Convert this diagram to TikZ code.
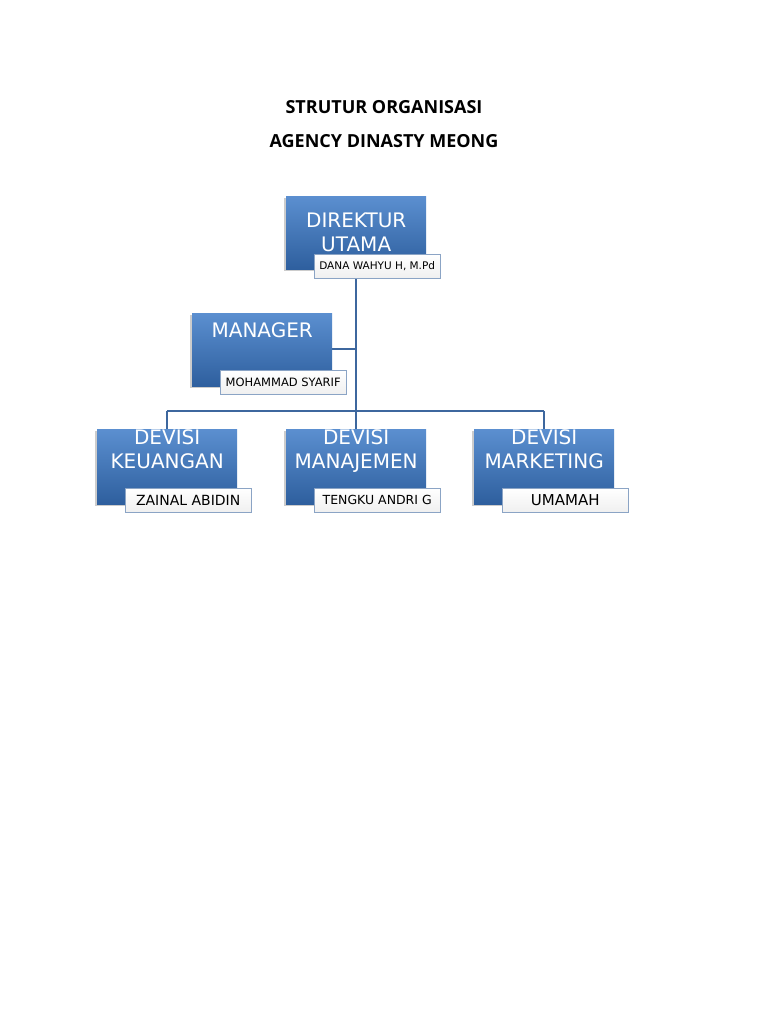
\documentclass[tikz,border=0pt]{standalone}
\usepackage{fontspec}
\setmainfont{DejaVu Sans}
\newfontfamily\titlefont{Open Sans}
\usetikzlibrary{shadows}
\definecolor{boxtop}{HTML}{5B8FD0}
\definecolor{boxbot}{HTML}{2E5F9E}
\definecolor{linecol}{HTML}{3D679E}
\begin{document}
\begin{tikzpicture}[x=1pt,y=-1pt,
    unit/.style={rectangle, top color=boxtop, bottom color=boxbot, draw=none,
      minimum width=140, minimum height=73, anchor=north west, text=white,
      font=\fontsize{20}{24}\selectfont, align=center, inner sep=0pt,
      drop shadow={shadow xshift=-2pt, shadow yshift=-2pt, opacity=.4}},
    tag/.style={rectangle, top color=white, bottom color=gray!12, draw=linecol!60,
      minimum width=126, minimum height=24, anchor=north west, inner sep=1pt,
      drop shadow={shadow xshift=1pt, shadow yshift=-1pt, opacity=.3}},
    link/.style={linecol, line width=2.2pt}
]
\useasboundingbox (0,0) rectangle (768,1024);
\fill[white] (0,0) rectangle (768,1024);

% Title
\node[font=\titlefont\bfseries\fontsize{18}{22}\selectfont] (title1) at (384,107) {STRUTUR ORGANISASI};
\node[font=\titlefont\bfseries\fontsize{18}{22}\selectfont] (title2) at (384,141) {AGENCY DINASTY MEONG};

% Connectors (behind boxes)
\coordinate (trunk) at (356,278);
\coordinate (junction) at (356,411);
\coordinate (left) at (167,411);
\coordinate (right) at (544,411);
\coordinate (mgr) at (356,349);
\draw[link] (trunk) -- (junction);
\draw[link] (left) -- (right);
\draw[link] (left) -- (167,429);
\draw[link] (junction) -- (356,429);
\draw[link] (right) -- (544,429);
\draw[link] (332,349) -- (mgr);

% Units
\node[unit] (direktur) at (286,196) {DIREKTUR\\UTAMA};
\node[tag, font=\fontsize{10.5}{12}\selectfont] (direkturname) at (314,254) {DANA WAHYU H, M.Pd};

\node[unit] (manager) at (192,313) {MANAGER\\[16pt]};
\node[tag, font=\fontsize{11.5}{13}\selectfont] (managername) at (220,370) {MOHAMMAD SYARIF};

\node[unit] (keuangan) at (97,429) {DEVISI\\KEUANGAN\\[12pt]};
\node[tag, font=\fontsize{14}{16}\selectfont] (keuanganname) at (125,488) {ZAINAL ABIDIN};

\node[unit] (manajemen) at (286,429) {DEVISI\\MANAJEMEN\\[12pt]};
\node[tag, font=\fontsize{12.5}{14}\selectfont] (manajemenname) at (314,488) {TENGKU ANDRI G};

\node[unit] (marketing) at (474,429) {DEVISI\\MARKETING\\[12pt]};
\node[tag, font=\fontsize{15}{17}\selectfont] (marketingname) at (502,488) {UMAMAH};
\end{tikzpicture}
\end{document}
